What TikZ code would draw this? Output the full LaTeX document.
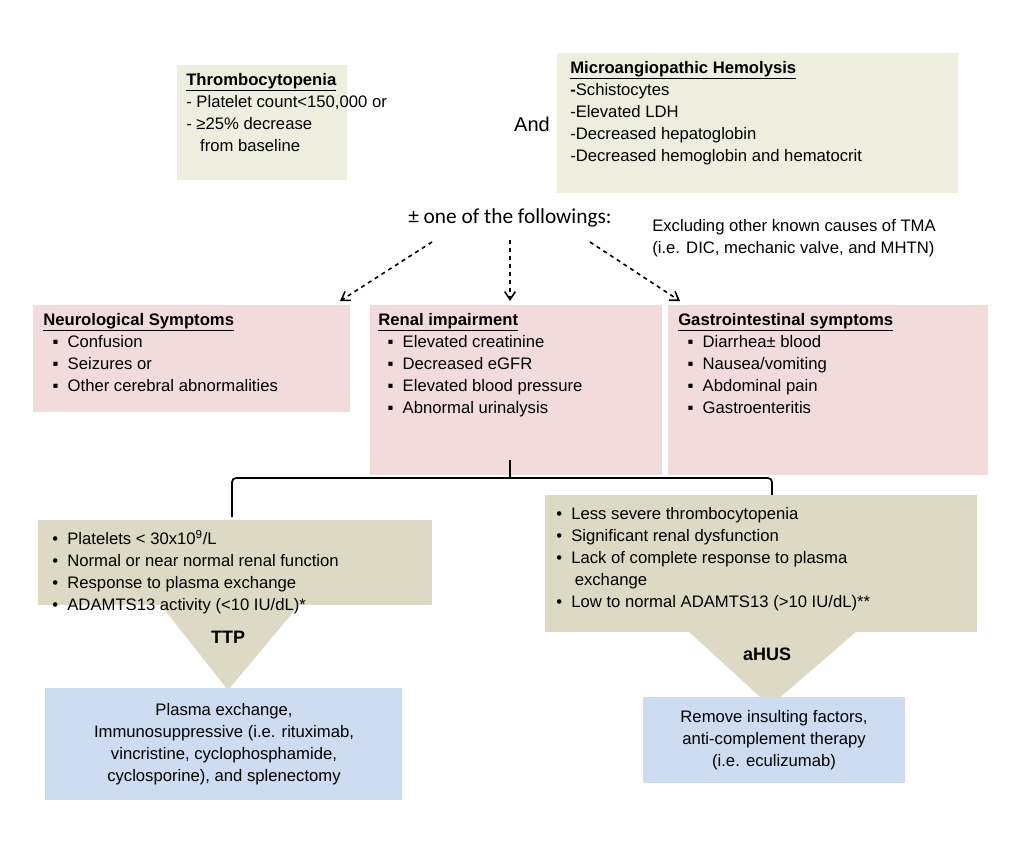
\documentclass[tikz,border=0pt]{standalone}
\usepackage{fontspec}
\setmainfont{Liberation Sans}
\newfontfamily\carlitofont{Carlito}
\usetikzlibrary{arrows.meta}
\definecolor{cream}{HTML}{EEEEDF}
\definecolor{pinkb}{HTML}{F2DCDB}
\definecolor{tanb}{HTML}{DDD9C4}
\definecolor{blueb}{HTML}{CDDCF0}
\begin{document}
\begin{tikzpicture}[x=0.75pt,y=-0.75pt,
  txt/.style={font=\fontsize{12.5}{16.5}\selectfont, align=left, anchor=north west, inner sep=0pt},
  ctxt/.style={font=\fontsize{12.5}{16.5}\selectfont, align=center, inner sep=0pt},
  darrow/.style={dashed, -{Straight Barb[length=6pt,width=8pt]}, line width=1.2pt}]
\useasboundingbox (0,0) rectangle (1019,844);
% top boxes
\fill[cream] (177,65) rectangle (347,180);
\fill[cream] (557,53) rectangle (958,193);
\node[txt] (thr) at (186,73) {\textbf{\underline{Thrombocytopenia}}\\- Platelet count<150,000 or\\- ≥25\% decrease\\\ \ \ from baseline};
\node[ctxt, font=\fontsize{15}{18}\selectfont] (and) at (532,124) {And};
\node[txt] (mah) at (570,61) {\textbf{\underline{Microangiopathic Hemolysis}}\\\textbf{-}Schistocytes\\-Elevated LDH\\-Decreased hepatoglobin\\-Decreased hemoglobin and hematocrit};
\node[ctxt, font=\carlitofont\fontsize{16}{19}\selectfont] (one) at (510,218) {± one of the followings:};
\node[txt] (excl) at (652,219) {Excluding other known causes of TMA\\(i.e. DIC, mechanic valve, and MHTN)};
% pink boxes
\fill[pinkb] (33,305) rectangle (350,412);
\fill[pinkb] (370,305) rectangle (662,475);
\fill[pinkb] (668,305) rectangle (988,475);
\node[txt] (neu) at (43,313) {\textbf{\underline{Neurological Symptoms}}\\\ \ ▪\ \ Confusion\\\ \ ▪\ \ Seizures or\\\ \ ▪\ \ Other cerebral abnormalities};
\node[txt] (ren) at (378,313) {\textbf{\underline{Renal impairment}}\\\ \ ▪\ \ Elevated creatinine\\\ \ ▪\ \ Decreased eGFR\\\ \ ▪\ \ Elevated blood pressure\\\ \ ▪\ \ Abnormal urinalysis};
\node[txt] (gi) at (678,313) {\textbf{\underline{Gastrointestinal symptoms}}\\\ \ ▪\ \ Diarrhea± blood\\\ \ ▪\ \ Nausea/vomiting\\\ \ ▪\ \ Abdominal pain\\\ \ ▪\ \ Gastroenteritis};
\coordinate (a1s) at (432,242); \coordinate (a1e) at (340,301);
\coordinate (a2s) at (510,240); \coordinate (a2e) at (510,301);
\coordinate (a3s) at (590,242); \coordinate (a3e) at (680,301);
\draw[darrow] (a1s) -- (a1e);
\draw[darrow] (a2s) -- (a2e);
\draw[darrow] (a3s) -- (a3e);
% brace
\coordinate (bl) at (232,517); \coordinate (br) at (772,517); \coordinate (bt) at (510,460);
\draw[line width=1.3pt, rounded corners=3pt] (bl) -- (232,478) -- (772,478) -- (br);
\draw[line width=1.3pt] (bt) -- (510,478);
% lower boxes
\fill[tanb] (38,520) rectangle (432,605);
\fill[tanb] (160,604) -- (300,604) -- (228,690) -- cycle;
\node[txt] (ttpl) at (52,530) {•\ \ Platelets < 30x10\textsuperscript{9}/L\\•\ \ Normal or near normal renal function\\•\ \ Response to plasma exchange\\•\ \ ADAMTS13 activity (<10 IU/dL)*};
\node[ctxt, font=\bfseries\fontsize{13.5}{16}\selectfont] (ttp) at (228,637) {TTP};
\fill[tanb] (545,495) rectangle (977,632);
\fill[tanb] (688,631) -- (857,631) -- (770,706) -- cycle;
\node[txt] (ahl) at (556,507) {•\ \ Less severe thrombocytopenia\\•\ \ Significant renal dysfunction\\•\ \ Lack of complete response to plasma\\\ \ \ \ exchange\\•\ \ Low to normal ADAMTS13 (>10 IU/dL)**};
\node[ctxt, font=\bfseries\fontsize{13.5}{16}\selectfont] (ahus) at (767,654) {aHUS};
\fill[blueb] (45,688) rectangle (402,800);
\fill[blueb] (643,697) rectangle (905,783);
\node[ctxt] (tt) at (224,744) {Plasma exchange,\\Immunosuppressive (i.e. rituximab,\\vincristine, cyclophosphamide,\\cyclosporine), and splenectomy};
\node[ctxt] (at) at (774,740) {Remove insulting factors,\\anti-complement therapy\\(i.e. eculizumab)};
\end{tikzpicture}
\end{document}
